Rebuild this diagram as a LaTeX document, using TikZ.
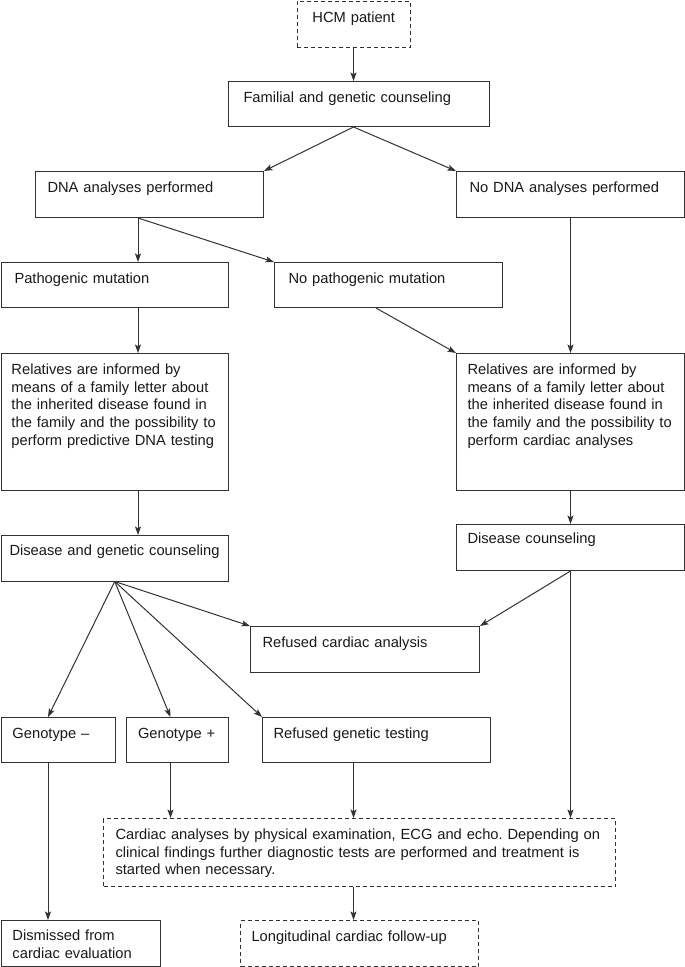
\documentclass[tikz,border=0pt]{standalone}
\usepackage{fontspec}
\setmainfont{Liberation Sans}
\usetikzlibrary{arrows.meta,calc}
\definecolor{lc}{RGB}{50,50,50}
\definecolor{tc}{RGB}{25,25,25}
\newcommand\fs{\fontsize{14.7}{17.7}\selectfont\frenchspacing}
\begin{document}
\begin{tikzpicture}[x=1pt,y=-1pt,
  box/.style n args={3}{draw=lc, line width=1pt, anchor=north west, inner ysep=0pt,
    inner xsep=#3pt, text width=#1pt-2*#3pt, text height=21pt, text depth=#2pt-21pt,
    align=left, font=\fs, text=tc},
  dbox/.style n args={3}{box={#1}{#2}{#3}, dash pattern=on 4pt off 3pt},
  arr/.style={draw=lc, line width=1pt, -{Stealth[length=8.5pt,width=6pt,inset=1.8pt]}}]
\useasboundingbox (0,0) rectangle (685,967);
\coordinate (axL) at (138,0);
\coordinate (axC) at (353.5,0);
\coordinate (axN) at (376,0);
\coordinate (axG) at (48,0);
\coordinate (axP) at (170.5,0);

\node[dbox={113.5}{46}{4}, align=center] (hcm) at (296.5,0.5) {HCM patient};
\node[box={261}{45}{15}] (fam) at (228,81) {Familial and genetic counseling};
\node[box={228}{46}{12}] (dna) at (35,171) {DNA analyses performed};
\node[box={228}{46}{13}] (nodna) at (456,171) {No DNA analyses performed};
\node[box={227.5}{45}{13.5}] (path) at (0.5,262) {Pathogenic mutation};
\node[box={228}{45}{14}] (nopath) at (274,262) {No pathogenic mutation};
\node[box={227.5}{136.5}{10.5}] (relL) at (0.5,353) {Relatives are informed by\\means of a family letter about\\the inherited disease found in\\the family and the possibility to\\perform predictive DNA testing};
\node[box={228}{136.5}{11}] (relR) at (456,353) {Relatives are informed by\\means of a family letter about\\the inherited disease found in\\the family and the possibility to\\perform cardiac analyses};
\node[box={227.5}{45.5}{8.5}, text height=20pt, text depth=25.5pt] (dgc) at (0.5,535) {Disease and genetic counseling};
\node[box={228}{46}{11}, text height=19pt, text depth=27pt] (dc) at (456,524) {Disease counseling};
\node[box={229}{46}{12}] (rca) at (250,626) {Refused cardiac analysis};
\node[box={114.5}{45}{11.5}] (gm) at (0.5,717) {Genotype –};
\node[box={102.5}{45}{12}] (gp) at (125.5,717) {Genotype +};
\node[box={228}{45}{11}] (rgt) at (262,717) {Refused genetic testing};
\node[dbox={512}{68}{12}] (card) at (103,818) {Cardiac analyses by physical examination, ECG and echo. Depending on\\clinical findings further diagnostic tests are performed and treatment is\\started when necessary.};
\node[box={159.5}{46}{11.5}, text height=20pt, text depth=26pt] (dis) at (0.5,920) {Dismissed from\\cardiac evaluation};
\node[dbox={238}{46}{11}] (longi) at (240,920) {Longitudinal cardiac follow-up};

\draw[arr] (axC |- hcm.south) -- (axC |- fam.north);
\draw[arr] (axC |- fam.south) -- (dna.north east);
\draw[arr] (axC |- fam.south) -- (nodna.north west);
\draw[arr] (axL |- dna.south) -- (axL |- path.north);
\draw[arr] (axL |- dna.south) -- (nopath.north west);
\draw[arr] (axL |- path.south) -- (axL |- relL.north);
\draw[arr] (axN |- nopath.south) -- (relR.north west);
\draw[arr] (nodna.south) -- (relR.north);
\draw[arr] (axL |- relL.south) -- (axL |- dgc.north);
\draw[arr] (relR.south) -- (dc.north);
\draw[arr] (dc.south) -- (rca.north east);
\draw[arr] (dc.south) -- (dc.south |- card.north);
\draw[arr] (dgc.south) -- (rca.north west);
\draw[arr] (dgc.south) -- (axG |- gm.north);
\draw[arr] (dgc.south) -- (axP |- gp.north);
\draw[arr] (dgc.south) -- (rgt.north west);
\draw[arr] (axG |- gm.south) -- (axG |- dis.north);
\draw[arr] (axP |- gp.south) -- (axP |- card.north);
\draw[arr] (axC |- rgt.south) -- (axC |- card.north);
\draw[arr] (axC |- card.south) -- (axC |- longi.north);
\end{tikzpicture}
\end{document}
